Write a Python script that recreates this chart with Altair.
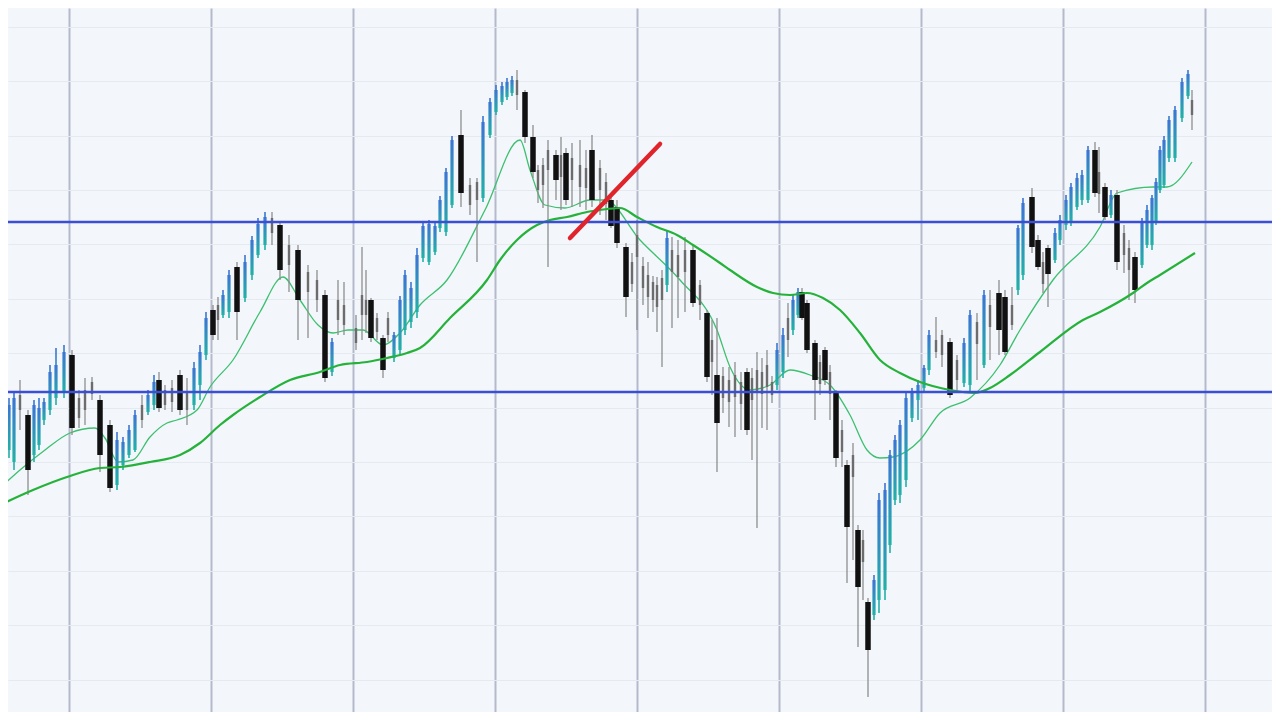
import altair as alt
import pandas as pd

# ---- candle data (session position, levels; larger level = lower on chart)
t = [3, 9, 14, 20, 28, 34, 39, 44, 50, 56, 64, 72, 79, 85, 92, 100, 110, 117, 123, 129,
     135, 142, 148, 154, 159, 165, 172, 180, 187, 194, 200, 206, 213, 218, 223, 229, 237, 245, 252, 258,
     265, 272, 280, 289, 298, 308, 317, 325, 332, 338, 344, 356, 362, 366, 371, 377, 383, 388, 394, 400,
     405, 411, 417, 423, 429, 435, 440, 446, 452, 461, 470, 477, 483, 490, 496, 502, 507, 512, 517, 525,
     533, 538, 543, 548, 556, 561, 566, 572, 580, 586, 592, 600, 606, 611, 617, 626, 632, 637, 643, 648,
     653, 657, 662, 667, 672, 678, 685, 693, 700, 707, 712, 717, 723, 729, 735, 741, 747, 752, 757, 762,
     767, 772, 777, 783, 788, 793, 798, 802, 807, 815, 820, 825, 830, 836, 842, 847, 853, 858, 863, 868,
     874, 879, 885, 890, 895, 900, 906, 912, 918, 924, 929, 936, 942, 950, 957, 964, 970, 977, 984, 990,
     999, 1005, 1012, 1018, 1023, 1032, 1038, 1043, 1048, 1055, 1060, 1066, 1071, 1077, 1082, 1088, 1095, 1099, 1105, 1111,
     1117, 1124, 1129, 1135, 1142, 1147, 1152, 1156, 1160, 1164, 1169, 1175, 1182, 1188, 1192]
open_ = [465, 450, 462, 395, 415, 455, 445, 420, 410, 398, 392, 355, 398, 390, 382, 400, 425, 485, 465, 455,
         450, 405, 412, 405, 380, 390, 388, 375, 392, 405, 385, 355, 310, 305, 315, 312, 267, 298, 275, 255,
         245, 218, 225, 245, 250, 272, 280, 295, 372, 300, 305, 328, 295, 300, 300, 318, 338, 318, 358, 350,
         330, 322, 312, 258, 262, 252, 228, 232, 205, 135, 185, 182, 198, 135, 112, 102, 97, 93, 80, 92,
         137, 170, 165, 150, 155, 155, 153, 158, 165, 168, 150, 168, 182, 200, 207, 247, 262, 235, 266, 275,
         282, 285, 278, 285, 250, 255, 250, 250, 285, 313, 340, 375, 376, 380, 375, 382, 372, 378, 370, 372,
         365, 382, 385, 372, 318, 330, 315, 292, 303, 343, 362, 350, 372, 393, 430, 465, 455, 530, 540, 602,
         615, 600, 590, 545, 500, 495, 480, 418, 400, 388, 370, 340, 335, 342, 360, 383, 385, 322, 365, 305,
         293, 297, 305, 290, 275, 197, 240, 262, 248, 260, 240, 225, 222, 207, 200, 200, 150, 172, 187, 215,
         195, 233, 248, 257, 265, 245, 245, 222, 190, 185, 158, 158, 118, 96, 100]
high = [418, 398, 393, 380, 410, 400, 398, 398, 365, 348, 345, 350, 390, 378, 377, 395, 420, 432, 437, 425,
        410, 395, 390, 375, 372, 385, 380, 370, 378, 362, 345, 312, 305, 297, 290, 270, 262, 255, 236, 218,
        212, 212, 222, 235, 245, 265, 270, 290, 338, 280, 282, 315, 247, 270, 298, 313, 335, 312, 332, 296,
        270, 282, 248, 222, 220, 222, 196, 168, 136, 110, 178, 178, 116, 98, 85, 82, 78, 76, 70, 90,
        125, 165, 158, 140, 150, 137, 148, 143, 140, 150, 135, 160, 173, 195, 200, 243, 253, 220, 257, 262,
        276, 277, 270, 230, 237, 240, 237, 245, 280, 310, 320, 318, 367, 367, 362, 372, 368, 368, 352, 358,
        350, 376, 343, 328, 303, 295, 288, 288, 300, 340, 355, 347, 365, 390, 420, 460, 443, 525, 530, 598,
        575, 493, 483, 450, 435, 420, 393, 388, 380, 365, 330, 317, 330, 338, 355, 338, 310, 313, 290, 290,
        280, 290, 287, 225, 198, 188, 235, 252, 245, 228, 215, 195, 183, 173, 170, 146, 142, 147, 183, 190,
        190, 225, 240, 252, 218, 205, 195, 178, 146, 136, 116, 106, 78, 70, 90]
low = [472, 458, 470, 430, 495, 462, 450, 425, 415, 405, 398, 435, 428, 425, 400, 472, 492, 490, 470, 458,
       452, 428, 415, 410, 412, 410, 412, 415, 425, 410, 400, 360, 340, 340, 318, 318, 340, 302, 280, 258,
       250, 245, 280, 292, 340, 338, 312, 382, 376, 335, 335, 350, 340, 333, 342, 340, 378, 342, 362, 355,
       335, 328, 318, 262, 265, 255, 232, 236, 208, 207, 215, 262, 202, 138, 115, 105, 100, 96, 110, 143,
       178, 203, 208, 267, 200, 210, 205, 207, 207, 210, 207, 215, 220, 228, 248, 317, 292, 330, 305, 318,
       312, 332, 367, 292, 328, 318, 312, 307, 320, 382, 395, 472, 413, 427, 437, 430, 435, 460, 528, 428,
       430, 403, 390, 378, 357, 335, 318, 320, 353, 420, 395, 385, 420, 467, 467, 583, 560, 647, 600, 697,
       620, 613, 600, 553, 505, 503, 487, 422, 420, 392, 375, 358, 367, 398, 392, 387, 392, 380, 368, 360,
       355, 355, 330, 295, 280, 253, 270, 293, 307, 263, 245, 230, 226, 210, 205, 203, 197, 213, 220, 218,
       270, 273, 300, 303, 268, 248, 250, 225, 193, 188, 162, 162, 122, 99, 130]
close = [425, 405, 398, 410, 470, 405, 408, 402, 372, 365, 352, 428, 418, 410, 394, 455, 488, 440, 442, 430,
         415, 420, 395, 382, 408, 405, 402, 410, 410, 368, 352, 318, 335, 320, 295, 275, 312, 262, 240, 224,
         217, 233, 270, 265, 300, 292, 300, 378, 342, 320, 325, 343, 315, 315, 338, 332, 370, 335, 335, 300,
         275, 288, 255, 226, 224, 226, 200, 172, 140, 193, 205, 200, 122, 102, 90, 86, 82, 80, 95, 137,
         172, 190, 185, 170, 180, 177, 200, 180, 187, 188, 200, 190, 204, 226, 243, 297, 284, 257, 288, 297,
         300, 307, 300, 238, 272, 277, 272, 303, 305, 377, 362, 423, 398, 402, 397, 404, 430, 400, 392, 394,
         387, 395, 350, 335, 340, 300, 292, 318, 350, 380, 384, 380, 394, 458, 452, 527, 477, 587, 562, 650,
         580, 500, 490, 455, 440, 425, 398, 392, 385, 368, 335, 352, 355, 395, 380, 343, 315, 344, 295, 327,
         330, 352, 325, 228, 203, 247, 267, 284, 274, 233, 220, 200, 187, 178, 175, 150, 193, 194, 217, 195,
         262, 255, 270, 290, 222, 210, 198, 182, 150, 140, 120, 110, 82, 74, 115]

# ---- moving averages
fast_t = [0, 20, 45, 70, 95, 105, 118, 133, 150, 167, 177, 197, 210, 233, 260, 283, 300, 318, 333, 348,
          363, 383, 400, 420, 447, 485, 520, 530, 545, 565, 590, 605, 640, 680, 717, 730, 750, 770, 790, 810,
          830, 850, 867, 880, 893, 920, 940, 970, 1000, 1020, 1053, 1100, 1117, 1153, 1167, 1192]
fast_v = [488, 470, 450, 433, 428, 438, 462, 460, 437, 423, 420, 410, 387, 360, 312, 277, 300, 325, 333, 330,
          330, 345, 333, 305, 280, 210, 140, 170, 205, 208, 200, 200, 240, 280, 330, 367, 390, 385, 370, 375,
          385, 415, 450, 458, 457, 440, 413, 398, 365, 330, 280, 227, 193, 187, 187, 162]
slow_t = [0, 33, 67, 100, 120, 150, 180, 200, 220, 233, 260, 290, 320, 340, 367, 387, 407, 420, 450, 487,
          500, 517, 537, 550, 567, 587, 600, 620, 637, 657, 677, 693, 720, 730, 757, 773, 790, 807, 823, 840,
          860, 880, 900, 920, 950, 975, 990, 1010, 1040, 1083, 1100, 1133, 1147, 1160, 1195]
slow_v = [505, 490, 477, 468, 467, 462, 455, 443, 425, 415, 397, 380, 372, 365, 362, 358, 353, 348, 318, 280,
          260, 240, 225, 220, 217, 212, 210, 208, 217, 227, 235, 245, 263, 270, 287, 293, 295, 293, 298, 310,
          333, 360, 373, 382, 390, 393, 388, 375, 352, 320, 312, 293, 283, 275, 253]

# ---- annotations
levels = [222, 392]
trend_t = [570, 660]
trend_v = [238, 144]

# ---- grid positions
vgrid = [69, 211, 353, 495, 637, 779, 921, 1063, 1205]
hgrid = [27, 81, 136, 190, 244, 299, 353, 408, 462, 516, 571, 625, 680]

candles = pd.DataFrame({"t": t, "open": open_, "high": high, "low": low, "close": close})
fast = pd.DataFrame({"t": fast_t, "v": fast_v})
slow = pd.DataFrame({"t": slow_t, "v": slow_v})
lev = pd.DataFrame({"level": levels})
trend = pd.DataFrame({"t": trend_t, "v": trend_v})

X = alt.Scale(domain=[8, 1272], nice=False, zero=False, padding=0)
Y = alt.Scale(domain=[8, 712], reverse=True, nice=False, zero=False, padding=0)

xaxis = alt.Axis(values=vgrid, grid=True, gridColor="#b4bacb", gridWidth=2, labels=False,
                 ticks=False, domain=False, title=None)
yaxis = alt.Axis(values=hgrid, grid=True, gridColor="#e5e9f0", gridWidth=1, labels=False,
                 ticks=False, domain=False, title=None)

grad = alt.LinearGradient(
    gradient="linear", x1=0, y1=0, x2=0, y2=1,
    stops=[alt.GradientStop(color="#3b74d4", offset=0),
           alt.GradientStop(color="#22b2a6", offset=1)])

base = alt.Chart(candles)

fast_line = alt.Chart(fast).mark_line(color="#3cc070", strokeWidth=1.3, interpolate="monotone", clip=True).encode(
    x=alt.X("t:Q", scale=X, axis=xaxis), y=alt.Y("v:Q", scale=Y, axis=yaxis))

up = base.transform_filter("datum.close < datum.open")
up_wick = up.mark_bar(size=1.6, color=grad, clip=True).encode(
    x=alt.X("t:Q", scale=X), y=alt.Y("high:Q", scale=Y), y2="low:Q")
up_body = up.mark_bar(size=3.2, color=grad, clip=True).encode(
    x=alt.X("t:Q", scale=X), y=alt.Y("close:Q", scale=Y), y2="open:Q")

down = base.transform_filter("datum.close >= datum.open")
down_wick = down.mark_rule(color="#8e8e8e", strokeWidth=1.3, clip=True).encode(
    x=alt.X("t:Q", scale=X), y=alt.Y("high:Q", scale=Y), y2="low:Q")
down_big = down.transform_filter("datum.close - datum.open >= 25").mark_bar(size=5.5, color="#111111", clip=True).encode(
    x=alt.X("t:Q", scale=X), y=alt.Y("open:Q", scale=Y), y2="close:Q")
down_small = down.transform_filter("datum.close - datum.open < 25").mark_bar(size=2.4, color="#6c6c6c", clip=True).encode(
    x=alt.X("t:Q", scale=X), y=alt.Y("open:Q", scale=Y), y2="close:Q")

slow_line = alt.Chart(slow).mark_line(color="#25b23a", strokeWidth=2.2, interpolate="monotone", clip=True).encode(
    x=alt.X("t:Q", scale=X), y=alt.Y("v:Q", scale=Y))

level_rules = alt.Chart(lev).mark_rule(color="#3a4ed6", strokeWidth=2.5).encode(
    y=alt.Y("level:Q", scale=Y))

trend_line = alt.Chart(trend).mark_line(color="#e0242c", strokeWidth=4.5, strokeCap="round").encode(
    x=alt.X("t:Q", scale=X), y=alt.Y("v:Q", scale=Y))

chart = alt.layer(
    fast_line, up_wick, up_body, down_wick, down_small, down_big, slow_line, level_rules, trend_line
).properties(
    width=1264, height=704, padding=0, autosize=alt.AutoSizeParams(type="none"),
    background="#f3f6fa"
).configure_view(stroke=None, fill="#f3f6fa")

chart.save("out.html", embed_options={"renderer": "svg", "actions": False})
